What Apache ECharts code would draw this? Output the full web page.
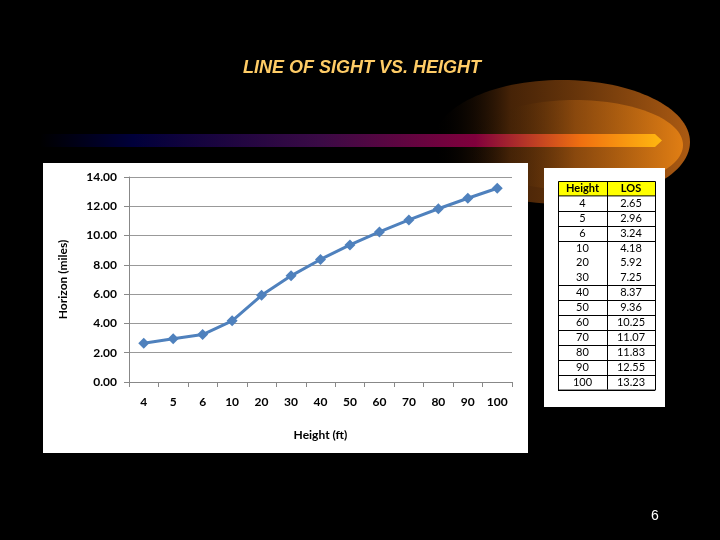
<!DOCTYPE html>
<html>
<head>
<meta charset="utf-8">
<script src="https://cdn.jsdelivr.net/npm/echarts@6/dist/echarts.min.js"></script>
<style>
  html, body { margin: 0; padding: 0; background: #000; }
  #chart { width: 720px; height: 540px; }
</style>
</head>
<body>
<div id="chart"></div>
<script>
// data
const heights = ['4', '5', '6', '10', '20', '30', '40', '50', '60', '70', '80', '90', '100']
const horizon = [2.65, 2.96, 3.24, 4.18, 5.92, 7.25, 8.37, 9.36, 10.25, 11.07, 11.83, 12.55, 13.23]
const yTicks = [0, 2, 4, 6, 8, 10, 12, 14]
const tableHeader = ['Height', 'LOS']

const chart = echarts.init(document.getElementById('chart'))

// table drawn with graphic elements
const tX = 558, tW = 97, tMid = 607, tY = 181, rowH = 14.9
const noLine = [3, 4] // rows merged visually in the source table
const tableEls = []
tableEls.push({ type: 'rect', shape: { x: 544, y: 168, width: 121, height: 239 }, style: { fill: '#fff' }, z: 1 })
tableEls.push({ type: 'rect', shape: { x: tX, y: tY, width: tW, height: rowH }, style: { fill: '#ffff00' }, z: 2 })
tableEls.push({ type: 'text', x: (tX + tMid) / 2, y: tY + rowH / 2, style: { text: tableHeader[0], fill: '#000', font: 'bold 11px Lato', align: 'center', verticalAlign: 'middle' }, z: 4 })
tableEls.push({ type: 'text', x: (tMid + tX + tW) / 2, y: tY + rowH / 2, style: { text: tableHeader[1], fill: '#000', font: 'bold 11px Lato', align: 'center', verticalAlign: 'middle' }, z: 4 })
heights.forEach((h, i) => {
  const cy = tY + rowH * (i + 1.5)
  tableEls.push({ type: 'text', x: (tX + tMid) / 2, y: cy, style: { text: h, fill: '#000', font: '11px Lato', align: 'center', verticalAlign: 'middle' }, z: 4 })
  tableEls.push({ type: 'text', x: (tMid + tX + tW) / 2, y: cy, style: { text: horizon[i].toFixed(2), fill: '#000', font: '11px Lato', align: 'center', verticalAlign: 'middle' }, z: 4 })
  if (noLine.indexOf(i) < 0) {
    const ly = Math.round(tY + rowH * (i + 2)) + 0.5
    tableEls.push({ type: 'line', shape: { x1: tX, y1: ly, x2: tX + tW, y2: ly }, style: { stroke: '#000', lineWidth: 1 }, z: 3 })
  }
})
tableEls.push({ type: 'line', shape: { x1: tX, y1: tY + rowH, x2: tX + tW, y2: tY + rowH }, style: { stroke: '#000', lineWidth: 1 }, z: 3 })
tableEls.push({ type: 'rect', shape: { x: tX + 0.5, y: tY + 0.5, width: tW, height: rowH * 14 }, style: { fill: 'none', stroke: '#000', lineWidth: 1 }, z: 3 })
tableEls.push({ type: 'line', shape: { x1: tMid + 0.5, y1: tY, x2: tMid + 0.5, y2: tY + rowH * 14 }, style: { stroke: '#000', lineWidth: 1 }, z: 3 })

chart.setOption({
  backgroundColor: '#000',
  animation: false,
  graphic: {
    elements: [
      // orange glow
      {
        type: 'ellipse', shape: { cx: 562, cy: 142, rx: 128, ry: 62 }, z: -20,
        style: { fill: new echarts.graphic.LinearGradient(0, 0, 1, 0, [
          { offset: 0, color: 'rgba(0,0,0,0)' },
          { offset: 0.3, color: 'rgba(100,50,10,0.7)' },
          { offset: 1, color: 'rgba(190,100,20,0.9)' }
        ]) }
      },
      {
        type: 'ellipse', shape: { cx: 575, cy: 145, rx: 108, ry: 45 }, z: -19,
        style: { fill: new echarts.graphic.LinearGradient(0, 0, 1, 0, [
          { offset: 0, color: 'rgba(0,0,0,0)' },
          { offset: 0.5, color: 'rgba(160,85,15,0.6)' },
          { offset: 1, color: 'rgba(230,130,20,0.9)' }
        ]) }
      },
      // gradient bar
      {
        type: 'polygon', z: -18,
        shape: { points: [[40, 134], [655, 134], [662, 140.5], [655, 147], [40, 147]] },
        style: { fill: new echarts.graphic.LinearGradient(0, 0, 1, 0, [
          { offset: 0, color: '#000000' },
          { offset: 0.15, color: '#00003a' },
          { offset: 0.45, color: '#3a0a45' },
          { offset: 0.7, color: '#80003c' },
          { offset: 0.87, color: '#f07010' },
          { offset: 1, color: '#ffb810' }
        ]) }
      },
      // white chart panel
      { type: 'rect', shape: { x: 43, y: 163, width: 485, height: 290 }, style: { fill: '#fff' }, z: -10 },
      // title
      {
        type: 'text', x: 362, y: 68, z: 5,
        style: { text: 'LINE OF SIGHT VS. HEIGHT', fill: '#ffcc66', font: 'italic bold 18px "Liberation Sans"', align: 'center', verticalAlign: 'middle' }
      },
      // page number
      {
        type: 'text', x: 655, y: 516, z: 5,
        style: { text: '6', fill: '#fff', font: '14px "Liberation Sans"', align: 'center', verticalAlign: 'middle' }
      }
    ].concat(tableEls)
  },
  grid: { left: 129, right: 208, top: 177, bottom: 158 },
  xAxis: {
    type: 'category',
    data: heights,
    boundaryGap: true,
    name: 'Height (ft)',
    nameLocation: 'middle',
    nameGap: 47,
    nameTextStyle: { color: '#000', fontFamily: 'Lato', fontWeight: 'bold', fontSize: 12 },
    axisLine: { lineStyle: { color: '#888', width: 1 } },
    axisTick: { show: true, alignWithLabel: false, length: 5, lineStyle: { color: '#888' } },
    axisLabel: { color: '#000', fontFamily: 'Lato', fontWeight: 'bold', fontSize: 12, margin: 14, interval: 0 }
  },
  yAxis: {
    type: 'value',
    min: yTicks[0],
    max: yTicks[yTicks.length - 1],
    interval: 2,
    name: 'Horizon (miles)',
    nameLocation: 'middle',
    nameGap: 60,
    nameTextStyle: { color: '#000', fontFamily: 'Lato', fontWeight: 'bold', fontSize: 12 },
    axisLine: { show: true, lineStyle: { color: '#888', width: 1 } },
    axisTick: { show: true, length: 5, lineStyle: { color: '#888' } },
    splitLine: { lineStyle: { color: '#999', width: 1 } },
    axisLabel: { color: '#000', fontFamily: 'Lato', fontWeight: 'bold', fontSize: 12, margin: 12, formatter: v => v.toFixed(2) }
  },
  series: [{
    type: 'line',
    data: horizon,
    symbol: 'diamond',
    symbolSize: 11,
    lineStyle: { color: '#4f81bd', width: 3 },
    itemStyle: { color: '#4f81bd' }
  }]
})
</script>
</body>
</html>
